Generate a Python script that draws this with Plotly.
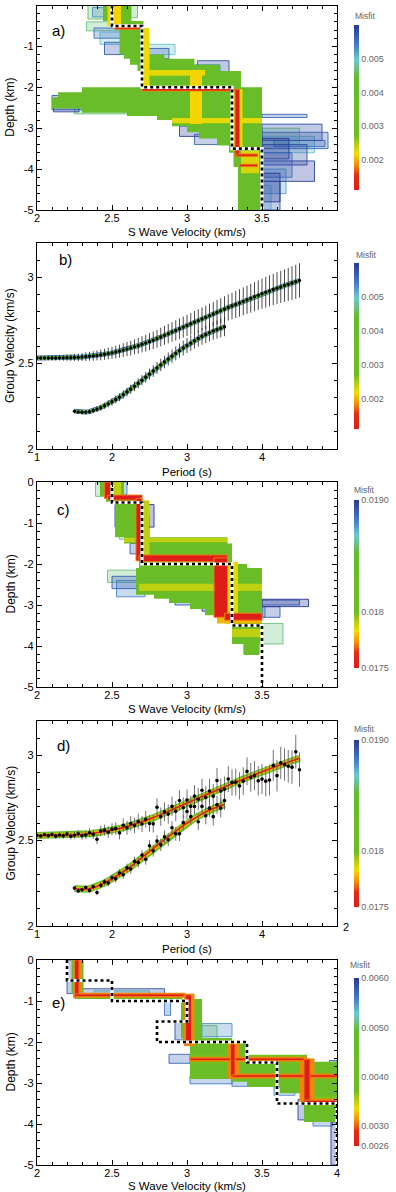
import plotly.graph_objects as go
from plotly.colors import sample_colorscale, unlabel_rgb

W, H = 396, 1192
FONT = "Liberation Sans, Arial, sans-serif"

# ---------------- colour scales (misfit) ----------------
MISFIT_SCALE = [
    [0.00, "rgb(222,28,24)"], [0.09, "rgb(228,45,20)"], [0.15, "rgb(240,140,10)"],
    [0.22, "rgb(245,220,0)"], [0.28, "rgb(175,205,20)"], [0.33, "rgb(110,190,35)"],
    [0.68, "rgb(100,188,45)"], [0.79, "rgb(110,200,210)"], [0.87, "rgb(70,130,200)"],
    [1.00, "rgb(40,55,150)"],
]
range_ab = [0.0011, 0.0060]
range_cd = [0.0175, 0.0190]
range_e = [0.0026, 0.0060]
cb_ticks_ab = [0.005, 0.004, 0.003, 0.002]
cb_text_ab = ["0.005", "0.004", "0.003", "0.002"]
cb_ticks_cd = [0.0190, 0.0180, 0.0175]
cb_text_cd = ["0.0190", "0.018", "0.0175"]
cb_ticks_e = [0.0060, 0.0050, 0.0040, 0.0030, 0.0026]
cb_text_e = ["0.0060", "0.0050", "0.0040", "0.0030", "0.0026"]

# axis tick labels
vel_ticks_ac = [2, 2.5, 3, 3.5]
vel_ticks_e = [2, 2.5, 3, 3.5, 4]
period_ticks = [1, 2, 3, 4]
gv_ticks = [2, 2.5, 3]

# ---------------- panel a : inversion ensemble ----------------
a_core_ztop = [0.00, 0.38, 0.60, 1.20, 1.30, 1.45, 1.60, 2.00, 2.12, 2.25, 2.52, 2.62, 2.70, 2.80, 2.95, 3.10, 3.25, 3.42, 3.60, 3.95]
a_core_zbot = [0.38, 0.60, 1.20, 1.30, 1.45, 1.60, 2.00, 2.12, 2.25, 2.52, 2.62, 2.70, 2.80, 2.95, 3.10, 3.25, 3.42, 3.60, 3.95, 5.00]
a_core_vleft = [2.44, 2.52, 2.55, 2.58, 2.62, 2.67, 2.70, 2.30, 2.14, 2.10, 2.30, 2.60, 2.80, 2.90, 3.00, 3.08, 3.20, 3.28, 3.31, 3.34]
a_core_vright = [2.63, 2.71, 2.74, 2.85, 3.05, 3.22, 3.36, 3.50, 3.50, 3.50, 3.50, 3.50, 3.50, 3.50, 3.50, 3.50, 3.50, 3.50, 3.50, 3.49]
a_core_misfit = 0.0038
# layer boxes: v_min, v_max, z_top, z_bottom, misfit
a_fringe = [
    [2.34, 2.47, 0.00, 0.33, 0.0046], [2.37, 2.50, 0.05, 0.28, 0.0053], [2.60, 2.67, 0.00, 0.30, 0.0047],
    [2.33, 2.56, 0.40, 0.62, 0.0047], [2.38, 2.56, 0.55, 0.80, 0.0055], [2.42, 2.60, 0.65, 0.95, 0.0050],
    [2.45, 2.58, 0.90, 1.20, 0.0057], [2.60, 2.70, 0.95, 1.15, 0.0057], [2.74, 2.92, 0.95, 1.20, 0.0050],
    [2.72, 2.88, 1.05, 1.30, 0.0056], [3.07, 3.28, 1.35, 1.75, 0.0058], [3.05, 3.22, 1.45, 1.85, 0.0052],
    [2.10, 2.45, 2.20, 2.55, 0.0057], [2.12, 2.35, 2.25, 2.45, 0.0050], [2.20, 2.55, 2.15, 2.35, 0.0053],
    [2.25, 2.62, 2.48, 2.65, 0.0047], [2.11, 2.28, 2.30, 2.60, 0.0059], [3.50, 3.80, 2.66, 2.74, 0.0056],
    [3.50, 3.90, 2.90, 3.30, 0.0058], [3.50, 3.94, 3.10, 3.50, 0.0056], [3.50, 3.85, 3.20, 3.60, 0.0050],
    [3.50, 3.75, 3.00, 3.40, 0.0047], [3.50, 3.80, 3.40, 3.90, 0.0058], [3.50, 3.70, 3.60, 4.20, 0.0054],
    [3.50, 3.85, 3.80, 4.30, 0.0059], [3.50, 3.66, 4.00, 4.60, 0.0052], [3.42, 3.62, 4.30, 5.00, 0.0057],
    [3.45, 3.56, 4.40, 5.00, 0.0050], [3.36, 3.50, 4.40, 5.00, 0.0049], [2.95, 3.30, 2.95, 3.20, 0.0059],
    [3.05, 3.30, 3.15, 3.40, 0.0056], [3.50, 3.68, 3.25, 3.75, 0.0060], [3.58, 3.92, 3.30, 3.45, 0.0055],
    [3.50, 3.62, 4.10, 4.80, 0.0060],
]
a_good = [
    [2.47, 2.56, 0.00, 0.50, 0.00215], [2.70, 2.75, 0.55, 2.00, 0.00220], [2.72, 3.12, 1.58, 1.72, 0.00225],
    [3.02, 3.10, 1.58, 2.90, 0.00215], [3.30, 3.37, 2.05, 3.50, 0.00220], [2.90, 3.50, 2.75, 2.88, 0.00225],
    [3.36, 3.48, 3.55, 4.10, 0.00230],
]
a_best = [
    [2.52, 2.70, 0.52, 0.58, 0.0012], [2.70, 3.32, 2.03, 2.09, 0.0012], [3.32, 3.35, 2.05, 3.69, 0.0012],
    [3.33, 3.47, 3.63, 3.69, 0.0012], [3.35, 3.47, 3.88, 3.94, 0.0012],
]
a_true_v = [2.5, 2.7, 3.3, 3.5]
a_true_z = [0.0, 0.5, 2.0, 3.5, 5.0]

# ---------------- panel c ----------------
c_core_ztop = [0.00, 0.35, 0.48, 1.35, 1.50, 1.75, 2.00, 2.10, 2.75, 2.85, 2.95, 3.10, 3.25, 3.45, 3.95]
c_core_zbot = [0.35, 0.48, 1.35, 1.50, 1.75, 2.00, 2.10, 2.75, 2.85, 2.95, 3.10, 3.25, 3.45, 3.95, 4.22]
c_core_vleft = [2.42, 2.46, 2.52, 2.58, 2.68, 2.68, 2.68, 2.66, 2.78, 2.88, 3.02, 3.12, 3.25, 3.30, 3.38]
c_core_vright = [2.58, 2.70, 2.72, 3.27, 3.30, 3.30, 3.40, 3.50, 3.50, 3.50, 3.50, 3.50, 3.50, 3.50, 3.48]
c_core_misfit = 0.01822
c_fringe = [
    [2.39, 2.46, 0.00, 0.35, 0.0186], [2.55, 2.60, 0.00, 0.30, 0.0188], [2.52, 2.78, 0.55, 1.10, 0.0190],
    [2.55, 2.75, 0.80, 1.40, 0.0187], [2.62, 2.76, 1.50, 1.75, 0.0189], [2.76, 3.00, 1.50, 1.72, 0.0186],
    [3.05, 3.28, 1.55, 1.80, 0.0187], [2.47, 2.70, 2.15, 2.45, 0.0186], [2.50, 2.70, 2.30, 2.60, 0.0189],
    [2.53, 2.72, 2.40, 2.80, 0.0188], [3.50, 3.81, 2.86, 3.04, 0.0190], [3.50, 3.75, 2.88, 3.00, 0.0189],
    [3.50, 3.62, 3.04, 3.30, 0.0189], [3.42, 3.52, 3.04, 3.30, 0.0188], [3.50, 3.64, 3.45, 3.95, 0.0186],
    [3.38, 3.48, 3.85, 4.20, 0.0189], [2.92, 3.20, 2.70, 3.00, 0.0189], [3.10, 3.30, 2.95, 3.15, 0.0190],
]
c_good = [
    [2.50, 2.56, 0.00, 0.40, 0.01790], [2.58, 3.27, 1.36, 1.47, 0.01790], [2.68, 3.50, 2.48, 2.66, 0.01790],
    [3.30, 3.50, 3.58, 3.78, 0.01790], [2.70, 2.75, 0.45, 1.90, 0.01790], [3.27, 3.34, 1.95, 3.40, 0.01785],
    [3.20, 3.50, 3.30, 3.45, 0.01778],
]
c_best = [
    [2.45, 2.49, 0.00, 0.40, 0.0175], [2.47, 2.70, 0.32, 0.44, 0.0175], [2.66, 2.70, 0.40, 1.92, 0.0175],
    [2.68, 3.27, 1.78, 1.94, 0.0175], [3.18, 3.27, 1.85, 3.30, 0.0175], [3.25, 3.50, 3.20, 3.37, 0.0175],
]
c_true_v = [2.5, 2.7, 3.3, 3.5]
c_true_z = [0.0, 0.5, 2.0, 3.5, 5.0]

# ---------------- panel e ----------------
e_core_ztop = [0.00, 0.82, 0.95, 1.90, 2.00, 2.38, 2.48, 2.90, 2.97, 3.10, 3.25, 3.45]
e_core_zbot = [0.82, 0.95, 1.90, 2.00, 2.38, 2.48, 2.90, 2.97, 3.10, 3.25, 3.45, 3.95]
e_core_vleft = [2.23, 2.25, 2.96, 2.97, 3.02, 3.02, 3.02, 3.30, 3.40, 3.62, 3.76, 3.78]
e_core_vright = [2.31, 2.97, 3.10, 3.30, 3.40, 3.78, 4.00, 4.00, 4.00, 4.00, 4.00, 4.00]
e_core_misfit = 0.0042
e_fringe = [
    [2.20, 2.24, 0.00, 0.82, 0.0058], [2.30, 2.85, 0.70, 0.85, 0.0058], [2.38, 2.75, 0.75, 0.85, 0.0052],
    [2.85, 2.89, 0.85, 1.35, 0.0056], [3.10, 3.30, 1.55, 1.87, 0.0055], [3.08, 3.20, 1.60, 2.00, 0.0050],
    [2.92, 2.98, 1.50, 1.95, 0.0058], [2.88, 3.02, 2.30, 2.52, 0.0057], [3.02, 3.30, 2.82, 3.02, 0.0056],
    [3.30, 3.62, 2.90, 3.08, 0.0056], [3.58, 3.72, 3.10, 3.30, 0.0055], [3.74, 3.79, 3.40, 3.90, 0.0059],
    [3.84, 3.97, 3.90, 4.05, 0.0056], [3.96, 4.00, 3.95, 5.00, 0.0060], [3.95, 4.00, 2.45, 2.62, 0.0058],
]
e_good = [
    [3.02, 3.80, 2.31, 2.53, 0.0037], [3.78, 4.00, 3.32, 3.58, 0.0037],
    [2.24, 2.30, 0.00, 0.92, 0.0031], [2.24, 2.99, 0.80, 0.92, 0.0031], [2.98, 3.05, 0.82, 2.10, 0.0031],
    [3.02, 3.80, 2.36, 2.48, 0.0031], [3.27, 3.35, 2.02, 2.90, 0.0031], [3.28, 4.00, 2.77, 2.89, 0.0031],
    [3.75, 3.85, 2.40, 3.52, 0.0031], [3.76, 4.00, 3.38, 3.52, 0.0031],
]
e_best = [
    [2.25, 2.28, 0.00, 0.90, 0.0026], [2.25, 2.98, 0.83, 0.89, 0.0026], [2.99, 3.03, 0.85, 2.05, 0.0026],
    [3.02, 3.78, 2.39, 2.45, 0.0026], [3.29, 3.32, 2.05, 2.85, 0.0026], [3.30, 4.00, 2.80, 2.86, 0.0026],
    [3.78, 3.82, 2.42, 3.48, 0.0026], [3.78, 4.00, 3.42, 3.48, 0.0026],
]
e_true_v = [2.2, 2.5, 3.0, 2.8, 3.4, 3.6, 4.0]
e_true_z = [0.0, 0.5, 1.0, 1.5, 2.0, 2.5, 3.5, 5.0]

# ---------------- dispersion data (panels b, d) ----------------
period_f = [1.00, 1.05, 1.10, 1.15, 1.20, 1.25, 1.30, 1.35, 1.40, 1.45, 1.50, 1.55, 1.60, 1.65, 1.70, 1.75,
            1.80, 1.85, 1.90, 1.95, 2.00, 2.05, 2.10, 2.15, 2.20, 2.25, 2.30, 2.35, 2.40, 2.45, 2.50, 2.55,
            2.60, 2.65, 2.70, 2.75, 2.80, 2.85, 2.90, 2.95, 3.00, 3.05, 3.10, 3.15, 3.20, 3.25, 3.30, 3.35,
            3.40, 3.45, 3.50, 3.55, 3.60, 3.65, 3.70, 3.75, 3.80, 3.85, 3.90, 3.95, 4.00, 4.05, 4.10, 4.15,
            4.20, 4.25, 4.30, 4.35, 4.40, 4.45, 4.50]
vel_f_clean = [2.530, 2.530, 2.530, 2.530, 2.530, 2.530, 2.531, 2.531, 2.532, 2.532, 2.533, 2.534, 2.536, 2.538,
               2.540, 2.542, 2.545, 2.548, 2.552, 2.556, 2.560, 2.565, 2.570, 2.576, 2.582, 2.588, 2.595, 2.602,
               2.610, 2.617, 2.625, 2.633, 2.642, 2.652, 2.662, 2.672, 2.682, 2.691, 2.701, 2.710, 2.720, 2.729,
               2.739, 2.748, 2.758, 2.767, 2.777, 2.786, 2.796, 2.805, 2.815, 2.824, 2.833, 2.842, 2.851, 2.860,
               2.869, 2.878, 2.887, 2.896, 2.905, 2.913, 2.921, 2.929, 2.937, 2.944, 2.952, 2.959, 2.967, 2.974,
               2.982]
vel_f_noisy = [2.530, 2.527, 2.534, 2.529, 2.536, 2.526, 2.533, 2.528, 2.538, 2.525, 2.531, 2.540, 2.528, 2.533,
               2.546, 2.537, 2.508, 2.556, 2.561, 2.549, 2.566, 2.570, 2.545, 2.590, 2.575, 2.600, 2.588, 2.612,
               2.597, 2.625, 2.600, 2.598, 2.695, 2.640, 2.668, 2.655, 2.700, 2.672, 2.735, 2.692, 2.738, 2.700,
               2.760, 2.742, 2.795, 2.752, 2.790, 2.760, 2.852, 2.790, 2.800, 2.860, 2.840, 2.842, 2.820, 2.848,
               2.905, 2.870, 2.880, 2.850, 2.860, 2.848, 2.855, 2.940, 2.880, 2.955, 2.945, 2.935, 2.930, 3.020,
               2.915]
err_f = [0.010, 0.011, 0.012, 0.013, 0.014, 0.015, 0.016, 0.017, 0.018, 0.019, 0.020, 0.022, 0.023, 0.025,
         0.026, 0.028, 0.029, 0.031, 0.032, 0.034, 0.035, 0.037, 0.038, 0.040, 0.041, 0.043, 0.044, 0.046,
         0.047, 0.049, 0.050, 0.051, 0.052, 0.054, 0.055, 0.056, 0.057, 0.059, 0.060, 0.061, 0.062, 0.063,
         0.065, 0.066, 0.067, 0.068, 0.070, 0.071, 0.072, 0.073, 0.075, 0.076, 0.077, 0.079, 0.080, 0.081,
         0.082, 0.084, 0.085, 0.086, 0.088, 0.089, 0.090, 0.091, 0.093, 0.094, 0.095, 0.096, 0.098, 0.099,
         0.100]
period_h = [1.50, 1.55, 1.60, 1.65, 1.70, 1.75, 1.80, 1.85, 1.90, 1.95, 2.00, 2.05, 2.10, 2.15, 2.20, 2.25,
            2.30, 2.35, 2.40, 2.45, 2.50, 2.55, 2.60, 2.65, 2.70, 2.75, 2.80, 2.85, 2.90, 2.95, 3.00, 3.05,
            3.10, 3.15, 3.20, 3.25, 3.30, 3.35, 3.40, 3.45, 3.50]
vel_h_clean = [2.220, 2.216, 2.214, 2.215, 2.218, 2.224, 2.232, 2.241, 2.252, 2.263, 2.275, 2.288, 2.302, 2.317,
               2.332, 2.348, 2.365, 2.382, 2.400, 2.418, 2.436, 2.454, 2.472, 2.490, 2.507, 2.524, 2.541, 2.557,
               2.573, 2.588, 2.603, 2.617, 2.631, 2.644, 2.656, 2.667, 2.678, 2.688, 2.696, 2.704, 2.712]
vel_h_noisy = [2.222, 2.205, 2.212, 2.225, 2.208, 2.230, 2.196, 2.238, 2.258, 2.251, 2.282, 2.276, 2.310, 2.300,
               2.340, 2.333, 2.378, 2.371, 2.415, 2.390, 2.470, 2.440, 2.497, 2.475, 2.522, 2.505, 2.575, 2.540,
               2.540, 2.605, 2.670, 2.640, 2.700, 2.610, 2.700, 2.645, 2.690, 2.640, 2.710, 2.690, 2.735]
err_h = [0.010, 0.011, 0.012, 0.013, 0.014, 0.015, 0.016, 0.017, 0.018, 0.020, 0.021, 0.022, 0.023, 0.024,
         0.025, 0.027, 0.028, 0.029, 0.030, 0.031, 0.032, 0.034, 0.035, 0.036, 0.037, 0.038, 0.039, 0.041,
         0.042, 0.043, 0.044, 0.045, 0.046, 0.048, 0.049, 0.050, 0.051, 0.052, 0.053, 0.054, 0.055]
# predicted curves of ensemble members (drawn widest first): misfit, line width
b_pred_misfit = [0.0058, 0.0050, 0.0040]
b_pred_width = [4.8, 4.0, 3.2]
d_pred_misfit = [0.0183, 0.01795, 0.01778, 0.0175]
d_pred_width = [7.0, 5.0, 3.4, 1.6]

# ---------------- layout geometry (pixels) ----------------
panel_px = {"a": (5.5, 210), "b": (243, 449), "c": (482, 687), "d": (721, 926), "e": (960, 1165)}
plot_x_px = (37, 337)
cbar_px = {"a": (25, 190), "b": (263, 429), "c": (500, 668), "d": (740, 907), "e": (978, 1146)}


def col(val, rng, alpha=None):
    t = (val - rng[0]) / (rng[1] - rng[0])
    t = min(max(t, 0.0), 1.0)
    c = sample_colorscale(MISFIT_SCALE, [t])[0]
    if alpha is None:
        return c
    r, g, b = unlabel_rgb(c)
    return f"rgba({r:.0f},{g:.0f},{b:.0f},{alpha})"


fig = go.Figure()
axis_ids = {"a": ("x", "y"), "b": ("x2", "y2"), "c": ("x3", "y3"), "d": ("x4", "y4"), "e": ("x5", "y5")}


def add_box(p, b, rng, kind):
    v0, v1, z0, z1, m = b
    xs = [v0, v1, v1, v0, v0]
    ys = [-z0, -z0, -z1, -z1, -z0]
    xa, ya = axis_ids[p]
    if kind == "fringe":
        fig.add_trace(go.Scatter(x=xs, y=ys, mode="lines", fill="toself",
                                 fillcolor=col(m, rng, 0.3), line=dict(color=col(m, rng), width=0.9),
                                 xaxis=xa, yaxis=ya, hoverinfo="skip", showlegend=False))
    elif kind == "best":
        fig.add_trace(go.Scatter(x=xs, y=ys, mode="lines", fill="toself",
                                 fillcolor=col(m, rng), line=dict(color="rgb(238,120,20)", width=1.0),
                                 xaxis=xa, yaxis=ya, hoverinfo="skip", showlegend=False))
    else:
        fig.add_trace(go.Scatter(x=xs, y=ys, mode="lines", fill="toself",
                                 fillcolor=col(m, rng), line=dict(width=0),
                                 xaxis=xa, yaxis=ya, hoverinfo="skip", showlegend=False))


def add_core(p, ztop, zbot, vl, vr, m, rng):
    xs, ys = [], []
    for zt, zb, v in zip(ztop, zbot, vl):
        xs += [v, v]
        ys += [-zt, -zb]
    for zt, zb, v in reversed(list(zip(ztop, zbot, vr))):
        xs += [v, v]
        ys += [-zb, -zt]
    xs.append(xs[0])
    ys.append(ys[0])
    xa, ya = axis_ids[p]
    fig.add_trace(go.Scatter(x=xs, y=ys, mode="lines", fill="toself", fillcolor=col(m, rng),
                             line=dict(width=0), xaxis=xa, yaxis=ya, hoverinfo="skip", showlegend=False))


def add_true(p, v, z):
    xs, ys = [], []
    for i, vv in enumerate(v):
        xs += [vv, vv]
        ys += [-z[i], -z[i + 1]]
    xa, ya = axis_ids[p]
    fig.add_trace(go.Scatter(x=xs, y=ys, mode="lines", line=dict(color="white", width=3.2),
                             xaxis=xa, yaxis=ya, hoverinfo="skip", showlegend=False))
    fig.add_trace(go.Scatter(x=xs, y=ys, mode="lines", line=dict(color="black", width=2.6, dash="3px,3px"),
                             xaxis=xa, yaxis=ya, hoverinfo="skip", showlegend=False))


def depth_panel(p, core, fringe, good, best, true_v, true_z, rng):
    for b in sorted(fringe, key=lambda r: r[4]):
        add_box(p, b, rng, "fringe")
    add_core(p, *core, rng)
    for b in sorted(good, key=lambda r: -r[4]):
        add_box(p, b, rng, "good")
    for b in best:
        add_box(p, b, rng, "best")
    add_true(p, true_v, true_z)


depth_panel("a", (a_core_ztop, a_core_zbot, a_core_vleft, a_core_vright, a_core_misfit),
            a_fringe, a_good, a_best, a_true_v, a_true_z, range_ab)
depth_panel("c", (c_core_ztop, c_core_zbot, c_core_vleft, c_core_vright, c_core_misfit),
            c_fringe, c_good, c_best, c_true_v, c_true_z, range_cd)
depth_panel("e", (e_core_ztop, e_core_zbot, e_core_vleft, e_core_vright, e_core_misfit),
            e_fringe, e_good, e_best, e_true_v, e_true_z, range_e)


def disp_panel(p, obs_f, obs_h, pred_m, pred_w, rng, bar_color, dot_size):
    xa, ya = axis_ids[p]
    for m, w in zip(pred_m, pred_w):
        for per, vel in ((period_f, vel_f_clean), (period_h, vel_h_clean)):
            fig.add_trace(go.Scatter(x=per, y=vel, mode="lines", line=dict(color=col(m, rng), width=w),
                                     xaxis=xa, yaxis=ya, hoverinfo="skip", showlegend=False))
    for per, vel, err in ((period_f, obs_f, err_f), (period_h, obs_h, err_h)):
        fig.add_trace(go.Scatter(x=per, y=vel, mode="markers",
                                 marker=dict(color="black", size=dot_size),
                                 error_y=dict(type="data", array=err, visible=True, thickness=1.0,
                                              width=0, color=bar_color),
                                 xaxis=xa, yaxis=ya, hoverinfo="skip", showlegend=False))


disp_panel("b", vel_f_clean, vel_h_clean, b_pred_misfit, b_pred_width, range_ab, "rgba(30,30,30,0.8)", 3.4)
disp_panel("d", vel_f_noisy, vel_h_noisy, d_pred_misfit, d_pred_width, range_cd, "rgba(90,90,90,0.85)", 3.6)

# colour-bar carriers
cax = {"a": ("coloraxis", range_ab), "b": ("coloraxis2", range_ab), "c": ("coloraxis3", range_cd),
       "d": ("coloraxis4", range_cd), "e": ("coloraxis5", range_e)}
for p, (ca, rng) in cax.items():
    xa, ya = axis_ids[p]
    fig.add_trace(go.Scatter(x=[None], y=[None], mode="markers",
                             marker=dict(color=rng, coloraxis=ca, size=1, opacity=0),
                             xaxis=xa, yaxis=ya, hoverinfo="skip", showlegend=False))

layout = dict(width=W, height=H, margin=dict(l=0, r=0, t=0, b=0), template="none",
              paper_bgcolor="white", plot_bgcolor="white", showlegend=False,
              font=dict(family=FONT, color="black"), hovermode=False)

common = dict(showline=True, linecolor="black", linewidth=1.4, mirror="allticks", ticks="inside",
              ticklen=5, tickwidth=1.2, tickcolor="black", showgrid=False, zeroline=False,
              automargin=False, tickfont=dict(size=11, family=FONT, color="black"))


def minor(t0, dt):
    return dict(ticks="inside", ticklen=3, tickwidth=1, tickcolor="black", tickmode="linear",
                tick0=t0, dtick=dt, showgrid=False)


def fmt(v):
    return ("-" if v < 0 else "") + ("%g" % abs(v))


x_dom = [plot_x_px[0] / W, plot_x_px[1] / W]
for i, p in enumerate(["a", "b", "c", "d", "e"]):
    sfx = "" if i == 0 else str(i + 1)
    top, bot = panel_px[p]
    ydom = [1 - bot / H, 1 - top / H]
    anchor_x = "y" + sfx
    anchor_y = "x" + sfx
    if p in ("a", "c", "e"):
        xt = vel_ticks_e if p == "e" else vel_ticks_ac
        xa = dict(common, domain=x_dom, anchor=anchor_x, range=[2, 4], tickmode="array", tickvals=xt,
                  ticktext=[fmt(v) for v in xt], ticklabelstandoff=-2, minor=minor(2, 0.1))
        tv = [-1, -2, -3, -4, -5] if p == "a" else [0, -1, -2, -3, -4, -5]
        ya = dict(common, domain=ydom, anchor=anchor_y, range=[-5, 0], tickmode="array", tickvals=tv,
                  ticktext=[fmt(t) for t in tv], minor=minor(0, 0.2))
    else:
        xa = dict(common, domain=x_dom, anchor=anchor_x, range=[1, 5], tickmode="array",
                  tickvals=period_ticks, ticktext=[fmt(v) for v in period_ticks], ticklabelstandoff=-2,
                  minor=minor(1, 0.2))
        ya = dict(common, domain=ydom, anchor=anchor_y, range=[2, 3.2], tickmode="array",
                  tickvals=gv_ticks, ticktext=[fmt(v) for v in gv_ticks], minor=minor(2, 0.1))
    layout["xaxis" + sfx] = xa
    layout["yaxis" + sfx] = ya
    ca, rng = cax[p]
    ctop, cbot = cbar_px[p]
    if p in ("a", "b"):
        tv, tt = cb_ticks_ab, cb_text_ab
    elif p in ("c", "d"):
        tv, tt = cb_ticks_cd, cb_text_cd
    else:
        tv, tt = cb_ticks_e, cb_text_e
    layout[ca] = dict(colorscale=MISFIT_SCALE, cmin=rng[0], cmax=rng[1],
                      colorbar=dict(x=354 / W, xanchor="left", y=1 - (ctop + cbot) / 2 / H, yanchor="middle",
                                    len=(cbot - ctop) / H, lenmode="fraction", thickness=5, outlinewidth=0,
                                    ypad=0, xpad=0, tickmode="array", tickvals=tv, ticktext=tt, ticks="",
                                    tickfont=dict(size=9, family=FONT, color="#666666")))

fig.update_layout(**layout)

# text annotations (axis titles, panel letters, colour-bar titles)
def ann(text, px, py, size, angle=0, color="black", xanchor="center"):
    fig.add_annotation(text=text, x=px / W, y=1 - py / H, xref="paper", yref="paper", showarrow=False,
                       textangle=angle, xanchor=xanchor, yanchor="middle",
                       font=dict(size=size, family=FONT, color=color))

x_titles = {"a": ("S Wave Velocity (km/s)", 231.5), "b": ("Period (s)", 471.5),
            "c": ("S Wave Velocity (km/s)", 709), "d": ("Period (s)", 948.5),
            "e": ("S Wave Velocity (km/s)", 1185.5)}
y_titles = {"a": "Depth (km)", "b": "Group Velocity (km/s)", "c": "Depth (km)", "d": "Group Velocity (km/s)",
            "e": "Depth (km)"}
letters = {"a": ("a)", 50, 30), "b": ("b)", 57, 260), "c": ("c)", 55, 509), "d": ("d)", 55, 745),
           "e": ("e)", 50, 1002)}
misfit_pos = {"a": (365, 16), "b": (366, 255), "c": (364, 490), "d": (364, 729), "e": (360, 965)}
for p in ["a", "b", "c", "d", "e"]:
    t, py = x_titles[p]
    ann(t, 187, py, 11.5)
    top, bot = panel_px[p]
    ann(y_titles[p], 10, (top + bot) / 2, 12, angle=-90)
    lt, lx, ly = letters[p]
    ann(lt, lx, ly, 15, xanchor="left")
    mx, my = misfit_pos[p]
    ann("Misfit", mx, my, 8.5, color="#666666")
ann("2", 346, 927, 11)

fig.write_html("out.html", config={"displayModeBar": False},
               post_script="document.body.style.margin='0px';document.body.style.padding='0px';")
